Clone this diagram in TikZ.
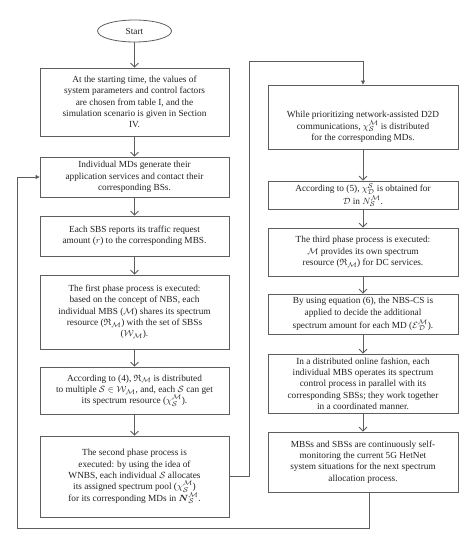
\documentclass[tikz,border=0pt]{standalone}
\usepackage{amsmath,amssymb}
\usepackage{fontspec}
\setmainfont{Liberation Serif}
\usetikzlibrary{arrows.meta,shapes.geometric}
\definecolor{linegray}{HTML}{5E5E5E}
\definecolor{txtgray}{HTML}{222222}
\newcommand{\myM}{\mathcal{M}}
\newcommand{\myS}{\mathcal{S}}
\newcommand{\myD}{\mathcal{D}}
\newcommand{\myR}{\mathfrak{R}}
\begin{document}
\begin{tikzpicture}[x=1pt,y=-1pt,
  box/.style={draw=linegray, line width=0.8pt, inner sep=0pt, align=center,
    font=\fontsize{9.3}{11.3}\selectfont, text=txtgray},
  lbox/.style={box, minimum width=189pt},
  rbox/.style={box, minimum width=190pt},
  loose/.style={font=\fontsize{9.3}{12.4}\selectfont},
  txt/.style={align=center, inner sep=0pt, font=\fontsize{9.3}{11.3}\selectfont, text=txtgray},
  varrow/.style={draw=linegray, line width=0.8pt, -{Straight Barb[length=4pt,width=8pt]}},
  farrow/.style={draw=linegray, line width=0.8pt, -{Triangle[length=4pt,width=4pt]}}]
\fill[white] (0,0) rectangle (474,545);
\useasboundingbox (0,0) rectangle (474,545);

\node[box, ellipse, minimum width=74pt, minimum height=22pt] (start) at (134.5,31) {Start};

\node[lbox, minimum height=68pt] (b1) at (134.5,102) {At the starting time, the values of\\ system parameters and control factors\\ are chosen from table I, and the\\ simulation scenario is given in Section\\ IV.};
\node[lbox, minimum height=40pt] (b2) at (134.5,177) {Individual MDs generate their\\ application services and contact their\\ corresponding BSs.};
\node[lbox, minimum height=40pt] (b3) at (134.5,236) {Each SBS reports its traffic request\\ amount ($r$) to the corresponding MBS.};
\node[lbox, minimum height=74pt] (b4) at (134.5,312) {The first phase process is executed:\\ based on the concept of NBS, each\\ individual MBS ($\myM$) shares its spectrum\\ resource ($\myR_{\myM}$) with the set of SBSs\\ ($\mathcal{W}_{\myM}$).};
\node[lbox, minimum height=47pt] (b5) at (134.5,390.5) {According to (4), $\myR_{\myM}$ is distributed\\ to multiple $\myS\in\mathcal{W}_{\myM}$, and, each $\myS$ can get\\ its spectrum resource ($\chi_{\myS}^{\myM}$).};
\node[lbox, minimum height=81pt] (b6) at (134.5,476.5) {The second phase process is\\ executed: by using the idea of\\ WNBS, each individual $\myS$ allocates\\ its assigned spectrum pool ($\chi_{\myS}^{\myM}$)\\ for its corresponding MDs in $\boldsymbol{N}_{\myS}^{\myM}$.};

\node[rbox, minimum height=64pt] (r1) at (363,117) {};
\node[txt] (r1t) at (363,127) {While prioritizing network-assisted D2D\\ communications, $\chi_{\myS}^{\myM}$ is distributed\\ for the corresponding MDs.};
\node[rbox, loose, minimum height=28pt] (r2) at (363,195) {According to (5), $\chi_{\myD}^{\myS}$ is obtained for\\ $\myD$ in $N_{\myS}^{\myM}$.};
\node[rbox, minimum height=48pt] (r3) at (363,252) {The third phase process is executed:\\ $\myM$ provides its own spectrum\\ resource ($\myR_{\myM}$) for DC services.};
\node[rbox, loose, minimum height=40pt] (r4) at (363,314) {By using equation (6), the NBS-CS is\\ applied to decide the additional\\ spectrum amount for each MD ($\mathcal{E}^{\myM}_{\,\myD}$).};
\node[rbox, minimum height=59pt] (r5) at (363,383.5) {In a distributed online fashion, each\\ individual MBS operates its spectrum\\ control process in parallel with its\\ corresponding SBSs; they work together\\ in a coordinated manner.};
\node[rbox, minimum height=60pt] (r6) at (363,462) {MBSs and SBSs are continuously self-\\ monitoring the current 5G HetNet\\ system situations for the next spectrum\\ allocation process.};

\coordinate (up) at (249,61);
\coordinate (fb) at (17,528);

\draw[varrow] (start.south) -- (b1.north);
\draw[varrow] (b1.south) -- (b2.north);
\draw[varrow] (b2.south) -- (b3.north);
\draw[varrow] (b3.south) -- (b4.north);
\draw[varrow] (b4.south) -- (b5.north);
\draw[varrow] (b5.south) -- (b6.north);
\draw[farrow] (b6.east) -| (up) -| (r1.north);
\draw[varrow] (r1.south) -- (r2.north);
\draw[varrow] (r2.south) -- (r3.north);
\draw[varrow] (r3.south) -- (r4.north);
\draw[varrow] (r4.south) -- (r5.north);
\draw[varrow] (r5.south) -- (r6.north);
\draw[farrow] ([xshift=6pt]r6.south) |- (fb) |- (b2.west);
\end{tikzpicture}
\end{document}
